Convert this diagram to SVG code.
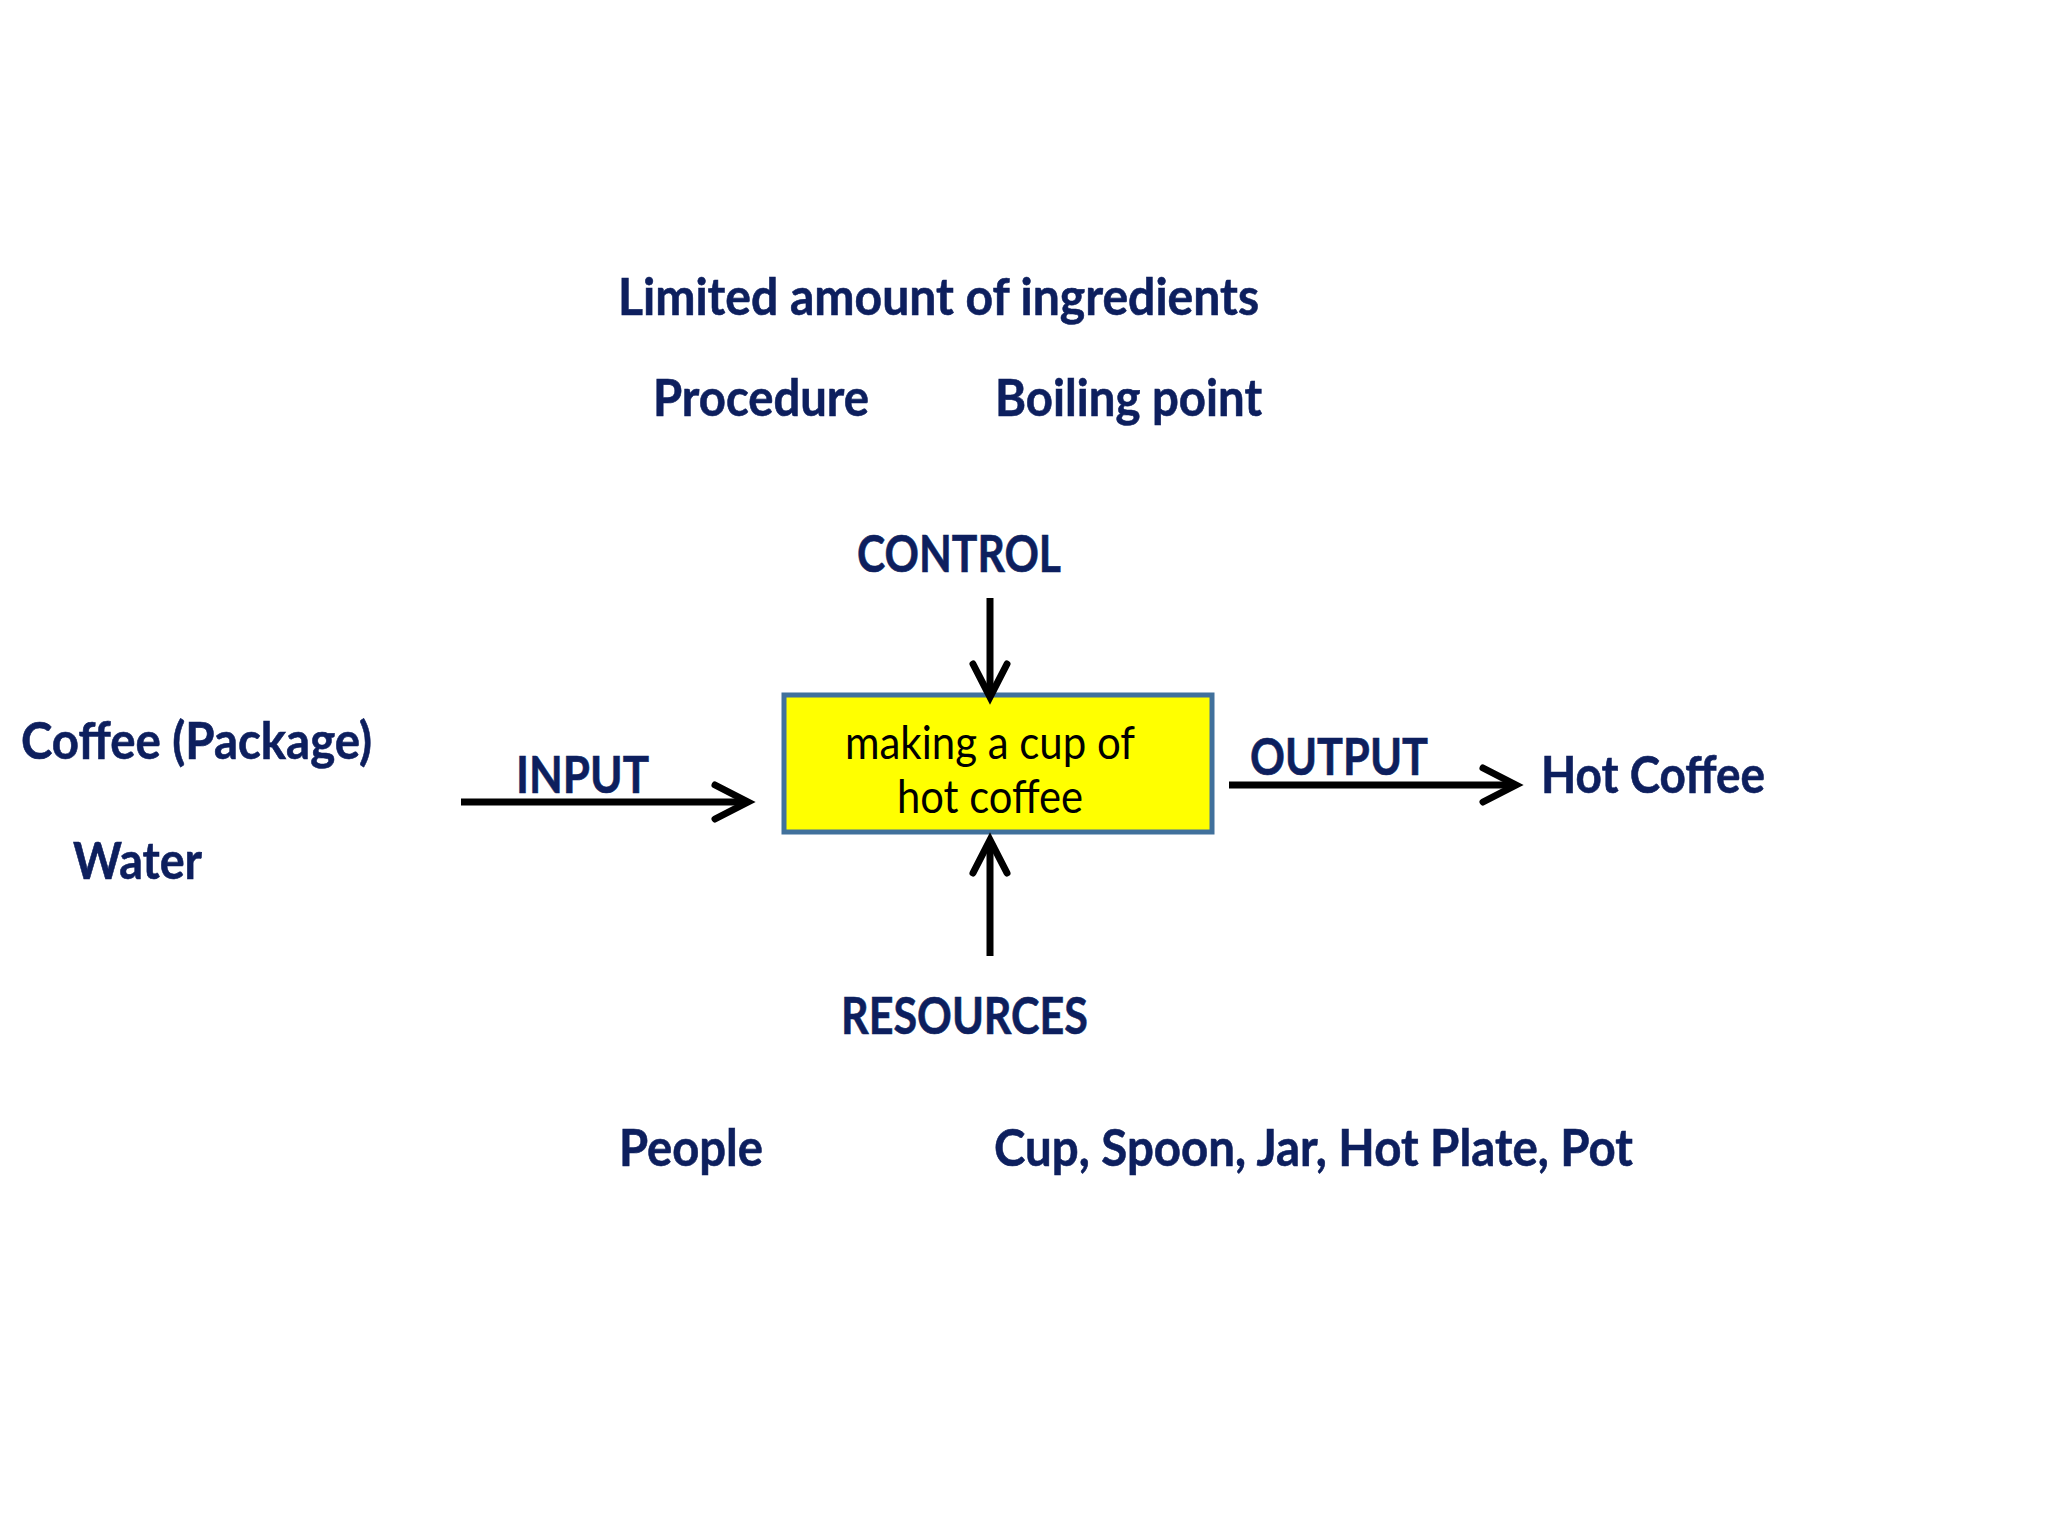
<svg xmlns="http://www.w3.org/2000/svg" width="2048" height="1536" viewBox="0 0 2048 1536">
<style>
.lbl{font-family:Lato,"Open Sans","Liberation Sans",sans-serif;font-weight:bold;font-size:51px;fill:#0D1F5E;stroke:#0D1F5E;stroke-width:0.6}
.box{fill:#FFFF00;stroke:#41719C;stroke-width:5}
.boxtxt{font-family:Lato,"Open Sans","Liberation Sans",sans-serif;font-size:46px;fill:#000000;text-anchor:middle}
.conn{stroke:#000000;stroke-width:7;fill:none;marker-end:url(#chev)}
</style>
<defs>
<marker id="chev" markerUnits="userSpaceOnUse" viewBox="-40 -25 50 50" refX="0" refY="0" markerWidth="50" markerHeight="50" orient="auto" overflow="visible">
<path d="M -33,-17 L 0,0 L -33,17" fill="none" stroke="#000000" stroke-width="7" stroke-linecap="round" stroke-linejoin="miter"/>
</marker>
</defs>
<rect x="0" y="0" width="2048" height="1536" fill="#FFFFFF"/>
<g id="control-items">
<text class="lbl" x="618" y="315" textLength="641" lengthAdjust="spacingAndGlyphs">Limited amount of ingredients</text>
<text class="lbl" x="653" y="416" textLength="216" lengthAdjust="spacingAndGlyphs">Procedure</text>
<text class="lbl" x="995" y="416" textLength="267" lengthAdjust="spacingAndGlyphs">Boiling point</text>
</g>
<g id="control-label">
<text class="lbl" x="857" y="572" textLength="204" lengthAdjust="spacingAndGlyphs">CONTROL</text>
</g>
<g id="input-items">
<text class="lbl" x="21" y="759" textLength="351" lengthAdjust="spacingAndGlyphs">Coffee (Package)</text>
<text class="lbl" x="73" y="879" textLength="129" lengthAdjust="spacingAndGlyphs">Water</text>
</g>
<g id="input-label">
<text class="lbl" x="516" y="793" textLength="133" lengthAdjust="spacingAndGlyphs">INPUT</text>
</g>
<g id="process">
<rect class="box" x="784" y="695" width="428" height="137"/>
<text class="boxtxt" x="990" y="759" textLength="290" lengthAdjust="spacingAndGlyphs">making a cup of</text>
<text class="boxtxt" x="990" y="813" textLength="186" lengthAdjust="spacingAndGlyphs">hot coffee</text>
</g>
<g id="output-label">
<text class="lbl" x="1250" y="775" textLength="178" lengthAdjust="spacingAndGlyphs">OUTPUT</text>
</g>
<g id="output-item">
<text class="lbl" x="1541" y="793" textLength="224" lengthAdjust="spacingAndGlyphs">Hot Coffee</text>
</g>
<g id="resources-label">
<text class="lbl" x="841" y="1034" textLength="247" lengthAdjust="spacingAndGlyphs">RESOURCES</text>
</g>
<g id="resource-items">
<text class="lbl" x="619" y="1166" textLength="144" lengthAdjust="spacingAndGlyphs">People</text>
<text class="lbl" x="994" y="1166" textLength="639" lengthAdjust="spacingAndGlyphs">Cup, Spoon, Jar, Hot Plate, Pot</text>
</g>
<g id="connectors">
<line class="conn" x1="461" y1="802" x2="748" y2="802"/>
<line class="conn" x1="1229" y1="785" x2="1516" y2="785"/>
<line class="conn" x1="990" y1="598" x2="990" y2="697"/>
<line class="conn" x1="990" y1="956" x2="990" y2="840"/>
</g>
</svg>
